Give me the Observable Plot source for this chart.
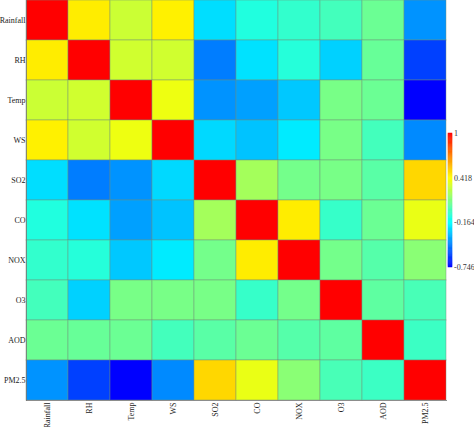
<!DOCTYPE html>
<html>
<head>
<meta charset="utf-8">
<script src="https://cdn.jsdelivr.net/npm/d3@7"></script>
<script src="https://cdn.jsdelivr.net/npm/@observablehq/plot@0.6"></script>
<style>
  body { margin: 0; background: #fff; }
  #wrap { position: relative; width: 474px; height: 427px; overflow: hidden; }
  #legend { position: absolute; left: 444px; top: 125px; }
  #wrap svg { overflow: visible; font-family: "Liberation Serif", "DejaVu Serif", serif !important; }
  #wrap svg text { font-family: "Liberation Serif", "DejaVu Serif", serif !important; }
</style>
</head>
<body>
<div id="wrap"><div id="main"></div><div id="legend"></div></div>
<script>
const variables = ["Rainfall", "RH", "Temp", "WS", "SO2", "CO", "NOX", "O3", "AOD", "PM2.5"];
// Correlation matrix, row by row (symmetric)
const rowRainfall = [1, 0.46, 0.30, 0.45, -0.24, -0.09, -0.05, -0.01, 0.08, -0.41];
const rowRH       = [0.46, 1, 0.31, 0.31, -0.46, -0.23, -0.08, -0.27, 0.07, -0.60];
const rowTemp     = [0.30, 0.31, 1, 0.38, -0.41, -0.38, -0.29, 0.11, 0.08, -0.746];
const rowWS       = [0.45, 0.31, 0.38, 1, -0.25, -0.30, -0.21, 0.11, -0.01, -0.43];
const rowSO2      = [-0.24, -0.46, -0.41, -0.25, 1, 0.21, 0.10, 0.11, 0.04, 0.51];
const rowCO       = [-0.09, -0.23, -0.38, -0.30, 0.21, 1, 0.46, -0.04, 0.08, 0.37];
const rowNOX      = [-0.05, -0.08, -0.29, -0.21, 0.10, 0.46, 1, 0.10, 0.03, 0.15];
const rowO3       = [-0.01, -0.27, 0.11, 0.11, 0.11, -0.04, 0.10, 1, 0.05, 0.00];
const rowAOD      = [0.08, 0.07, 0.08, -0.01, 0.04, 0.08, 0.03, 0.05, 1, -0.03];
const rowPM25     = [-0.41, -0.60, -0.746, -0.43, 0.51, 0.37, 0.15, 0.00, -0.03, 1];
const matrix = [rowRainfall, rowRH, rowTemp, rowWS, rowSO2, rowCO, rowNOX, rowO3, rowAOD, rowPM25];
const legendTicks = [1, 0.418, -0.164, -0.746];

const colorDomain = [-0.746, -0.164, 0.418, 1];
const colorRange = ["#0000ff", "#00ffff", "#ffff00", "#ff0000"];

const cells = [];
matrix.forEach((row, i) => row.forEach((v, j) => cells.push({row: variables[i], col: variables[j], value: v})));

const font = "Liberation Serif";

const main = Plot.plot({
  width: 474,
  height: 427,
  marginLeft: 26,
  marginRight: 28,
  marginTop: 0,
  marginBottom: 27,
  style: {fontFamily: font, fontSize: "8px", color: "#222", background: "#fff"},
  x: {domain: variables, padding: 0, label: null},
  y: {domain: variables, padding: 0, label: null},
  color: {type: "linear", domain: colorDomain, range: colorRange, interpolate: "rgb"},
  marks: [
    Plot.cell(cells, {x: "col", y: "row", fill: "value", inset: 0, stroke: "#6f8f7a", strokeOpacity: 0.45, strokeWidth: 1}),
    Plot.axisX({anchor: "bottom", tickSize: 0, tickPadding: 2, tickRotate: -90, fontSize: 8, fontFamily: font}),
    Plot.axisY({anchor: "left", tickSize: 0, tickPadding: 1, fontSize: 8, fontFamily: font}),
    Plot.frame({anchor: "left", stroke: "#777", strokeOpacity: 0.8}),
    Plot.frame({anchor: "bottom", stroke: "#777", strokeOpacity: 0.8})
  ]
});
document.getElementById("main").appendChild(main);

const steps = 120;
const lo = -0.746, hi = 1;
const grad = d3.range(steps).map(i => ({y1: lo + (hi - lo) * i / steps, y2: lo + (hi - lo) * (i + 1) / steps, v: lo + (hi - lo) * (i + 0.5) / steps}));

const legend = Plot.plot({
  width: 30,
  height: 150,
  marginLeft: 4,
  marginRight: 22,
  marginTop: 8,
  marginBottom: 8,
  style: {fontFamily: font, fontSize: "8px", color: "#333", background: "transparent"},
  x: {domain: [0, 1], axis: null},
  y: {domain: [lo, hi], axis: null},
  color: {type: "linear", domain: colorDomain, range: colorRange, interpolate: "rgb"},
  marks: [
    Plot.rect(grad, {x1: 0, x2: 1, y1: "y1", y2: "y2", fill: "v", stroke: "v", strokeWidth: 0.5}),
    Plot.axisY(legendTicks, {anchor: "right", tickSize: 0, tickPadding: 1.5, tickFormat: d => String(d), fontSize: 8, fontFamily: font})
  ]
});
document.getElementById("legend").appendChild(legend);
</script>
</body>
</html>
